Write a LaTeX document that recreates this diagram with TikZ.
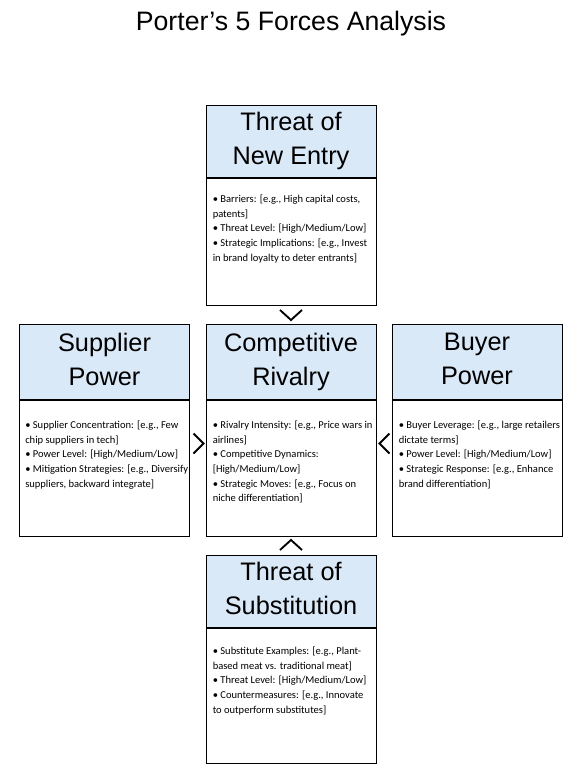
\documentclass[tikz,border=0pt]{standalone}
\usepackage{fontspec}
\setmainfont{Liberation Sans}
\newfontfamily\bodyfont{Carlito}
\usepackage{tikz}
\usetikzlibrary{positioning, calc}
\definecolor{headblue}{RGB}{218, 233, 248}
\tikzset{
    forcehead/.style={rectangle, draw, line width=0.75pt, fill=headblue, minimum width=127.5pt, minimum height=54pt, inner sep=0pt, align=center, anchor=north, font=\fontsize{19}{25.5}\selectfont, execute at begin node=\rule{0pt}{24.2pt}, execute at end node=\rule[-4.2pt]{0pt}{0pt}},
    forcebody/.style={rectangle, draw, line width=0.75pt, fill=white, minimum width=127.5pt, inner sep=0pt},
    forcetext/.style={anchor=north west, inner sep=0pt, align=left, font=\bodyfont\fontsize{7.9}{10.9}\selectfont},
    chevron/.style={line width=1.4pt, line join=miter}
}

\begin{document}
\begin{tikzpicture}[x=0.75pt, y=-0.75pt]
    \useasboundingbox (0,0) rectangle (582,783);
    \node[font=\fontsize{20}{24}\selectfont] (title) at (291,24) {Porter’s 5 Forces Analysis};

    % top
    \node[forcehead] (entryhead) at (291,105) {Threat of\\New Entry};
    \node[forcebody, minimum height=95.25pt, below=0pt of entryhead] (entrybody) {};
    \node[forcetext] (entrytext) at ($(entrybody.north west)+(7,17)$)
        {• Barriers: [e.g., High capital costs,\\patents]\\• Threat Level: [High/Medium/Low]\\• Strategic Implications: [e.g., Invest\\in brand loyalty to deter entrants]};

    % middle row
    \node[forcehead, minimum height=56.25pt] (rivalryhead) at (291,324) {Competitive\\Rivalry};
    \node[forcebody, minimum height=102pt, below=0pt of rivalryhead] (rivalrybody) {};
    \node[forcetext] (rivalrytext) at ($(rivalrybody.north west)+(7,21)$)
        {• Rivalry Intensity: [e.g., Price wars in\\airlines]\\• Competitive Dynamics:\\{[High/Medium/Low]}\\• Strategic Moves: [e.g., Focus on\\niche differentiation]};

    \node[forcehead, minimum height=56.25pt] (supplierhead) at (104.5,324) {Supplier\\Power};
    \node[forcebody, minimum height=102pt, below=0pt of supplierhead] (supplierbody) {};
    \node[forcetext] (suppliertext) at ($(supplierbody.north west)+(6,21)$)
        {• Supplier Concentration: [e.g., Few\\chip suppliers in tech]\\• Power Level: [High/Medium/Low]\\• Mitigation Strategies: [e.g., Diversify\\suppliers, backward integrate]};

    \node[forcehead, minimum height=56.25pt] (buyerhead) at (477,324) {Buyer\\Power};
    \node[forcebody, minimum height=102pt, below=0pt of buyerhead] (buyerbody) {};
    \node[forcetext] (buyertext) at ($(buyerbody.north west)+(7,21)$)
        {• Buyer Leverage: [e.g., large retailers\\dictate terms]\\• Power Level: [High/Medium/Low]\\• Strategic Response: [e.g., Enhance\\brand differentiation]};

    % bottom
    \node[forcehead] (substhead) at (291,555) {Threat of\\Substitution};
    \node[forcebody, minimum height=101.25pt, below=0pt of substhead] (substbody) {};
    \node[forcetext] (substtext) at ($(substbody.north west)+(7,19)$)
        {• Substitute Examples: [e.g., Plant-\\based meat vs. traditional meat]\\• Threat Level: [High/Medium/Low]\\• Countermeasures: [e.g., Innovate\\to outperform substitutes]};

    % chevrons
    \draw[chevron] ($(entrybody.south)+(-11,4)$) -- ($(entrybody.south)+(0,14)$) -- ($(entrybody.south)+(11,4)$);
    \draw[chevron] ($(substhead.north)+(-11,-5)$) -- ($(substhead.north)+(0,-15)$) -- ($(substhead.north)+(11,-5)$);
    \draw[chevron] ($(rivalrybody.west)+(-12,-35)$) -- ($(rivalrybody.west)+(-2,-25)$) -- ($(rivalrybody.west)+(-12,-15)$);
    \draw[chevron] ($(rivalrybody.east)+(13,-35)$) -- ($(rivalrybody.east)+(3,-25)$) -- ($(rivalrybody.east)+(13,-15)$);
\end{tikzpicture}
\end{document}
